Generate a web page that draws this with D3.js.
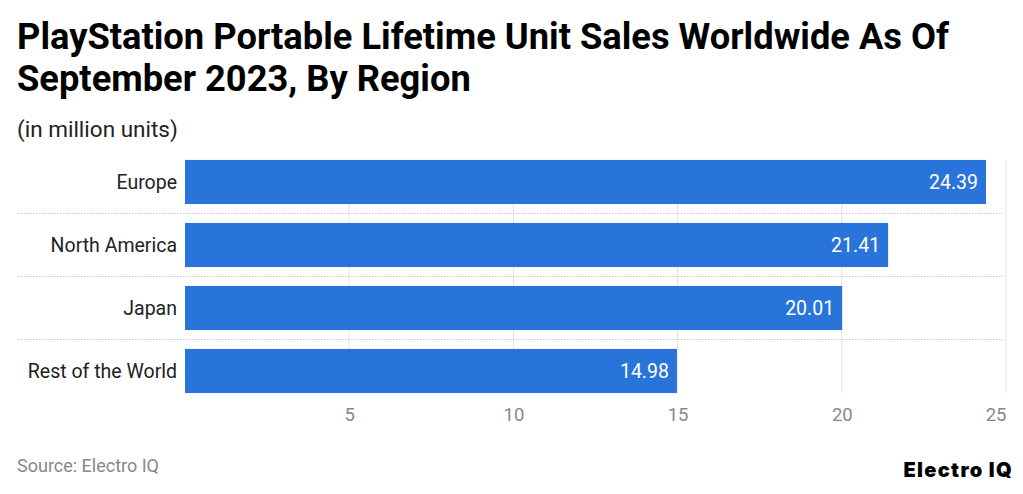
<!DOCTYPE html>
<html><head><meta charset="utf-8">
<script src="https://cdn.jsdelivr.net/npm/d3@7"></script>
<style>body{margin:0;background:#fff;} svg{display:block;font-family:Roboto, sans-serif;}</style>
</head><body><svg id="c" width="1023" height="494"></svg>
<script>
const categories = ["Europe", "North America", "Japan", "Rest of the World"];
const values = [24.39, 21.41, 20.01, 14.98];
const tickValues = [5, 10, 15, 20, 25];

const svg = d3.select("#c");
const x = d3.scaleLinear().domain([0, 25]).range([185, 1006]);
const y = d3.scaleBand().domain(categories).range([150.5, 402.5]).paddingInner(0.3).paddingOuter(0.15);

svg.append("text").attr("x", 17).attr("y", 49).attr("font-size", 36.3).attr("font-weight", 700).attr("fill", "#000")
  .text("PlayStation Portable Lifetime Unit Sales Worldwide As Of");
svg.append("text").attr("x", 17).attr("y", 91).attr("font-size", 36.3).attr("font-weight", 700).attr("fill", "#000")
  .text("September 2023, By Region");
svg.append("text").attr("x", 17).attr("y", 137).attr("font-size", 22.5).attr("fill", "#222").text("(in million units)");

const plotTop = y(categories[0]), plotBottom = y(categories[categories.length-1]) + y.bandwidth();
// vertical gridlines
svg.append("g").selectAll("line").data(tickValues).join("line")
  .attr("x1", d => x(d)).attr("x2", d => x(d)).attr("y1", plotTop).attr("y2", plotBottom)
  .attr("stroke", "#e2e2e2").attr("stroke-width", 1);
// dotted separators
const seps = categories.slice(0, -1).map(c => y(c) + y.bandwidth() + y.step()*y.paddingInner()/2);
svg.append("g").selectAll("line").data(seps).join("line")
  .attr("x1", 18).attr("x2", 1003).attr("y1", d => d).attr("y2", d => d)
  .attr("stroke", "#c8c8c8").attr("stroke-dasharray", "1.5,1.5");

svg.append("g").selectAll("rect").data(values).join("rect")
  .attr("x", x(0)).attr("y", (d,i) => y(categories[i])).attr("width", d => x(d) - x(0)).attr("height", y.bandwidth())
  .attr("fill", "#2874DB");

svg.append("g").selectAll("text").data(values).join("text")
  .attr("x", d => x(d) - 8).attr("y", (d,i) => y(categories[i]) + y.bandwidth()/2 + 7)
  .attr("text-anchor", "end").attr("font-size", 19.5).attr("fill", "#fff").text(d => d.toFixed(2));

svg.append("g").selectAll("text").data(categories).join("text")
  .attr("x", 177).attr("y", d => y(d) + y.bandwidth()/2 + 7)
  .attr("text-anchor", "end").attr("font-size", 19.5).attr("fill", "#222").text(d => d);

const axis = d3.axisBottom(x).tickValues(tickValues).tickSize(0).tickPadding(0);
const ag = svg.append("g").attr("transform", "translate(0,408)").call(axis);
ag.select(".domain").remove();
ag.selectAll("text").attr("font-size", 18.5).attr("fill", "#888").attr("font-family", "Roboto, sans-serif").attr("dy", "0.71em");
ag.selectAll(".tick").filter(d => d === 25).select("text").attr("text-anchor", "end").attr("dx", 0);

svg.append("text").attr("x", 17).attr("y", 472).attr("font-size", 18).attr("fill", "#888").text("Source: Electro IQ");
svg.append("text").attr("x", 1013).attr("y", 477).attr("text-anchor", "end").attr("font-size", 20).attr("font-weight", 900)
  .attr("font-family", "Inter, sans-serif").attr("fill", "#000").attr("letter-spacing", 1.3).text("Electro IQ");
</script></body></html>
